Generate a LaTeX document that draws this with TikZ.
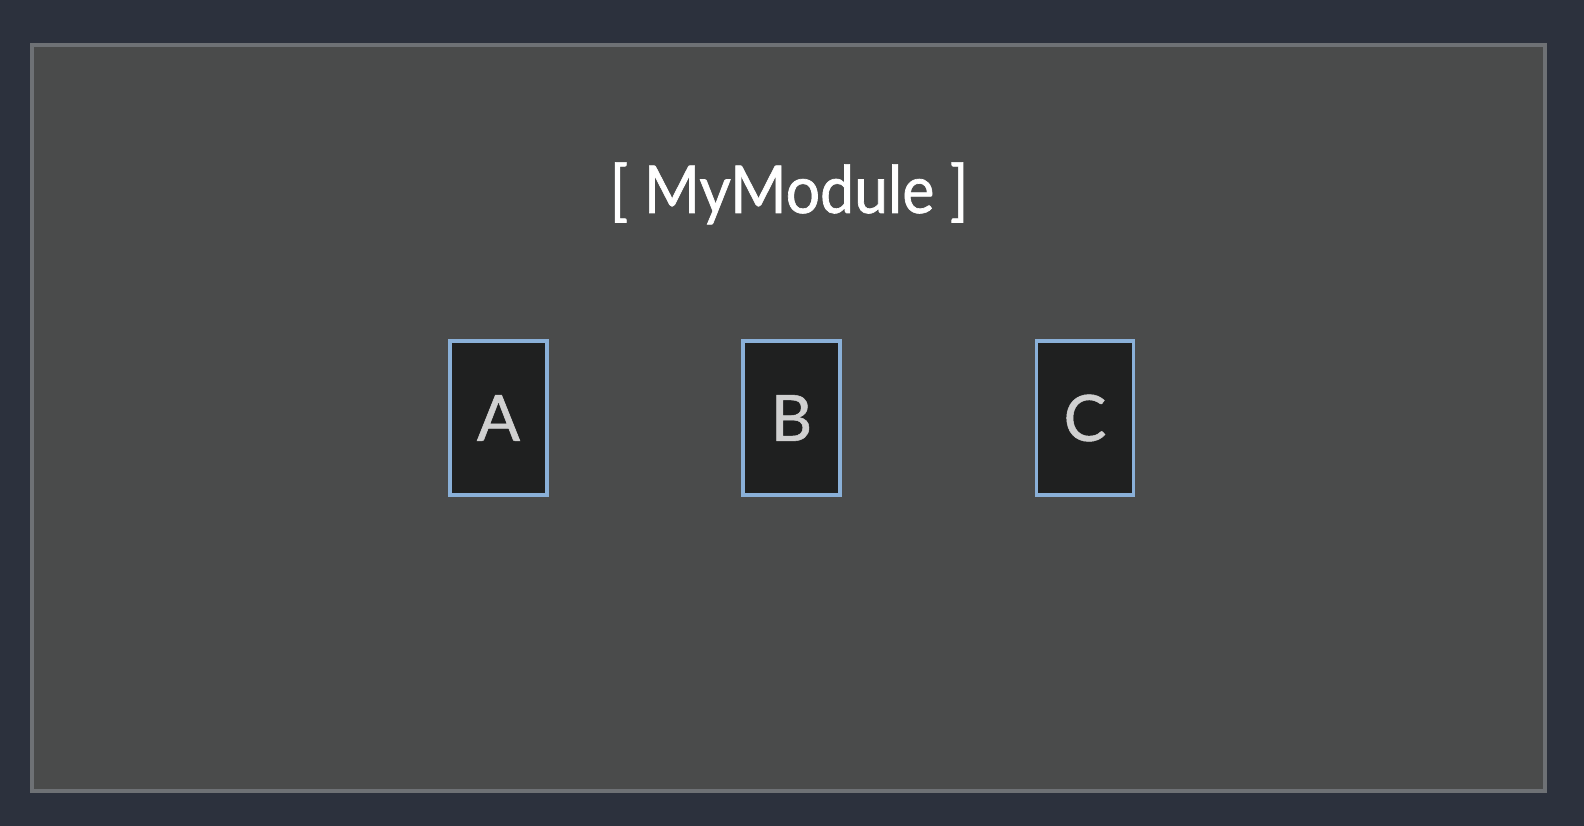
\documentclass[tikz,border=0pt]{standalone}
\usepackage{fontspec}
\setmainfont{Lato}
\newfontfamily\titlefont{Lato}[FakeStretch=0.92, FakeBold=1]
\newfontfamily\partfont{Lato}[FakeBold=0.8]
\usepackage{tikz}
\usetikzlibrary{positioning}
\definecolor{pagebg}{HTML}{2C313D}
\definecolor{modfill}{HTML}{4A4B4B}
\definecolor{modline}{HTML}{6E7175}
\definecolor{partfill}{HTML}{1F2020}
\definecolor{partline}{HTML}{8AB0D8}
\definecolor{parttext}{HTML}{D0D0D0}
\tikzset{
    module frame/.style = {draw=modline, fill=modfill, line width=4pt},
    part/.style = {draw=partline, fill=partfill, line width=3.5pt, text=parttext,
        minimum width=97pt, minimum height=154pt, inner sep=0pt, font=\partfont\fontsize{64}{64}\selectfont},
    title/.style = {text=white, font=\titlefont\fontsize{66}{66}\selectfont, inner sep=0pt, anchor=base},
}
\begin{document}
\begin{tikzpicture}[x=1pt, y=-1pt]
				\fill[pagebg] (0, 0) rectangle (1584, 826);
				\useasboundingbox (0, 0) rectangle (1584, 826);
				\draw[module frame] (32, 45) rectangle (1545, 791);

				\node[title] (T) at (789, 213) {[ MyModule ]};
				\node[part] (A) at (498.5, 418) {A};
				\node[part] (B) at (791.5, 418) {B};
				\node[part] (C) at (1085, 418) {C};
			\end{tikzpicture}
\end{document}
